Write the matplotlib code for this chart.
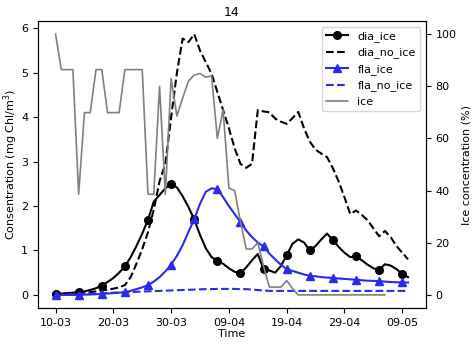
import matplotlib
matplotlib.use('Agg')
import matplotlib.pyplot as plt
import matplotlib.dates as mdates
import numpy as np
import pandas as pd

# daily series, 10-03 .. 10-05
start_date = '2018-03-10'
n_days = 62

dia_ice = [0.02, 0.03, 0.04, 0.05, 0.06, 0.08, 0.11, 0.15, 0.21, 0.29,
           0.38, 0.5, 0.64, 0.85, 1.1, 1.38, 1.69, 2.1, 2.25, 2.4,
           2.5, 2.42, 2.22, 1.98, 1.7, 1.35, 1.05, 0.85, 0.77, 0.7,
           0.6, 0.52, 0.49, 0.62, 0.78, 0.92, 0.58, 0.55, 0.5, 0.65,
           0.89, 1.15, 1.25, 1.18, 1.0, 1.1, 1.25, 1.38, 1.23, 1.08,
           0.95, 0.85, 0.87, 0.78, 0.68, 0.6, 0.56, 0.69, 0.66, 0.58,
           0.47, 0.4]

dia_no_ice = [0.02, 0.02, 0.02, 0.03, 0.03, 0.04, 0.06, 0.08, 0.1, 0.12,
              0.14, 0.17, 0.22, 0.4, 0.7, 1.03, 1.41, 1.92, 2.56, 2.95,
              4.0, 5.0, 5.77, 5.69, 5.87, 5.5, 5.24, 4.98, 4.57, 4.16,
              3.75, 3.3, 2.95, 2.86, 2.95, 4.16, 4.13, 4.11, 3.97, 3.9,
              3.85, 3.98, 4.12, 3.75, 3.45, 3.27, 3.18, 3.1, 2.85, 2.55,
              2.2, 1.82, 1.9, 1.8, 1.68, 1.5, 1.32, 1.44, 1.3, 1.1,
              0.95, 0.8]

fla_ice = [0.0, 0.0, 0.0, 0.0, 0.0, 0.005, 0.01, 0.015, 0.02, 0.03,
           0.04, 0.05, 0.06, 0.09, 0.13, 0.17, 0.22, 0.3, 0.4, 0.53,
           0.68, 0.88, 1.12, 1.42, 1.7, 2.05, 2.32, 2.4, 2.38, 2.2,
           2.0, 1.82, 1.64, 1.45, 1.3, 1.18, 1.09, 0.93, 0.8, 0.68,
           0.58, 0.54, 0.5, 0.46, 0.43, 0.42, 0.4, 0.39, 0.38, 0.37,
           0.36, 0.35, 0.34, 0.33, 0.32, 0.315, 0.31, 0.3, 0.29, 0.285,
           0.28, 0.28]

fla_no_ice = [0.0, 0.005, 0.01, 0.015, 0.02, 0.025, 0.03, 0.035, 0.04, 0.045,
              0.05, 0.055, 0.06, 0.065, 0.07, 0.075, 0.08, 0.085, 0.09, 0.095,
              0.1, 0.105, 0.11, 0.115, 0.12, 0.125, 0.13, 0.13, 0.135, 0.135,
              0.135, 0.135, 0.13, 0.13, 0.12, 0.11, 0.1, 0.09, 0.09, 0.09,
              0.09, 0.09, 0.09, 0.09, 0.09, 0.09, 0.09, 0.09, 0.09, 0.09,
              0.09, 0.09, 0.09, 0.09, 0.09, 0.09, 0.09, 0.09, 0.09, 0.09,
              0.09, 0.09]

# ice concentration (%), ends at 05-05
ice = [100, 86.4, 86.4, 86.4, 38.6, 69.9, 69.9, 86.4, 86.4, 69.9,
       69.9, 69.9, 86.4, 86.4, 86.4, 86.4, 38.6, 38.6, 80, 38.6,
       83, 68.6, 75.5, 82, 84.3, 84.9, 83.5, 84, 60, 71,
       41, 40, 28, 17.6, 17.6, 20, 11, 3, 3, 3,
       5.5, 2.5, 0, 0, 0, 0, 0, 0, 0, 0,
       0, 0, 0, 0, 0, 0, 0, 0]

dates = pd.date_range(start_date, periods=n_days)

plt.rcParams['font.size'] = 8
fig = plt.figure(figsize=(4.74, 3.46), dpi=100)
ax = fig.add_axes([0.080, 0.110, 0.818, 0.829])
ax2 = ax.twinx()

l1, = ax.plot(dates, dia_ice, color='black', marker='o', ms=5.5, markevery=4, lw=1.5, label='dia_ice')
l2, = ax.plot(dates, dia_no_ice, color='black', ls='--', lw=1.5, label='dia_no_ice')
l3, = ax.plot(dates, fla_ice, color='#2a2aee', marker='^', ms=5.5, markevery=4, lw=1.5, label='fla_ice')
l4, = ax.plot(dates, fla_no_ice, color='#2a2aee', ls='--', lw=1.5, label='fla_no_ice')
l5, = ax2.plot(dates[:len(ice)], ice, color='grey', lw=1.2, label='ice')

ax.set_yticks([0, 1, 2, 3, 4, 5, 6])
ax2.set_yticks([0, 20, 40, 60, 80, 100])
ax.set_xticks(dates[::10])
ax.xaxis.set_major_formatter(mdates.DateFormatter('%d-%m'))

ax.set_xlabel('Time', labelpad=1)
ax.set_ylabel('Consentration (mg Chl/m$^3$)', labelpad=1)
ax2.set_ylabel('Ice concentration (%)')
ax.set_title('14', fontsize=9, pad=4)

ax2.legend(handles=[l1, l2, l3, l4, l5], loc='upper right', fontsize=8)

fig.savefig('out.png', dpi=100)
